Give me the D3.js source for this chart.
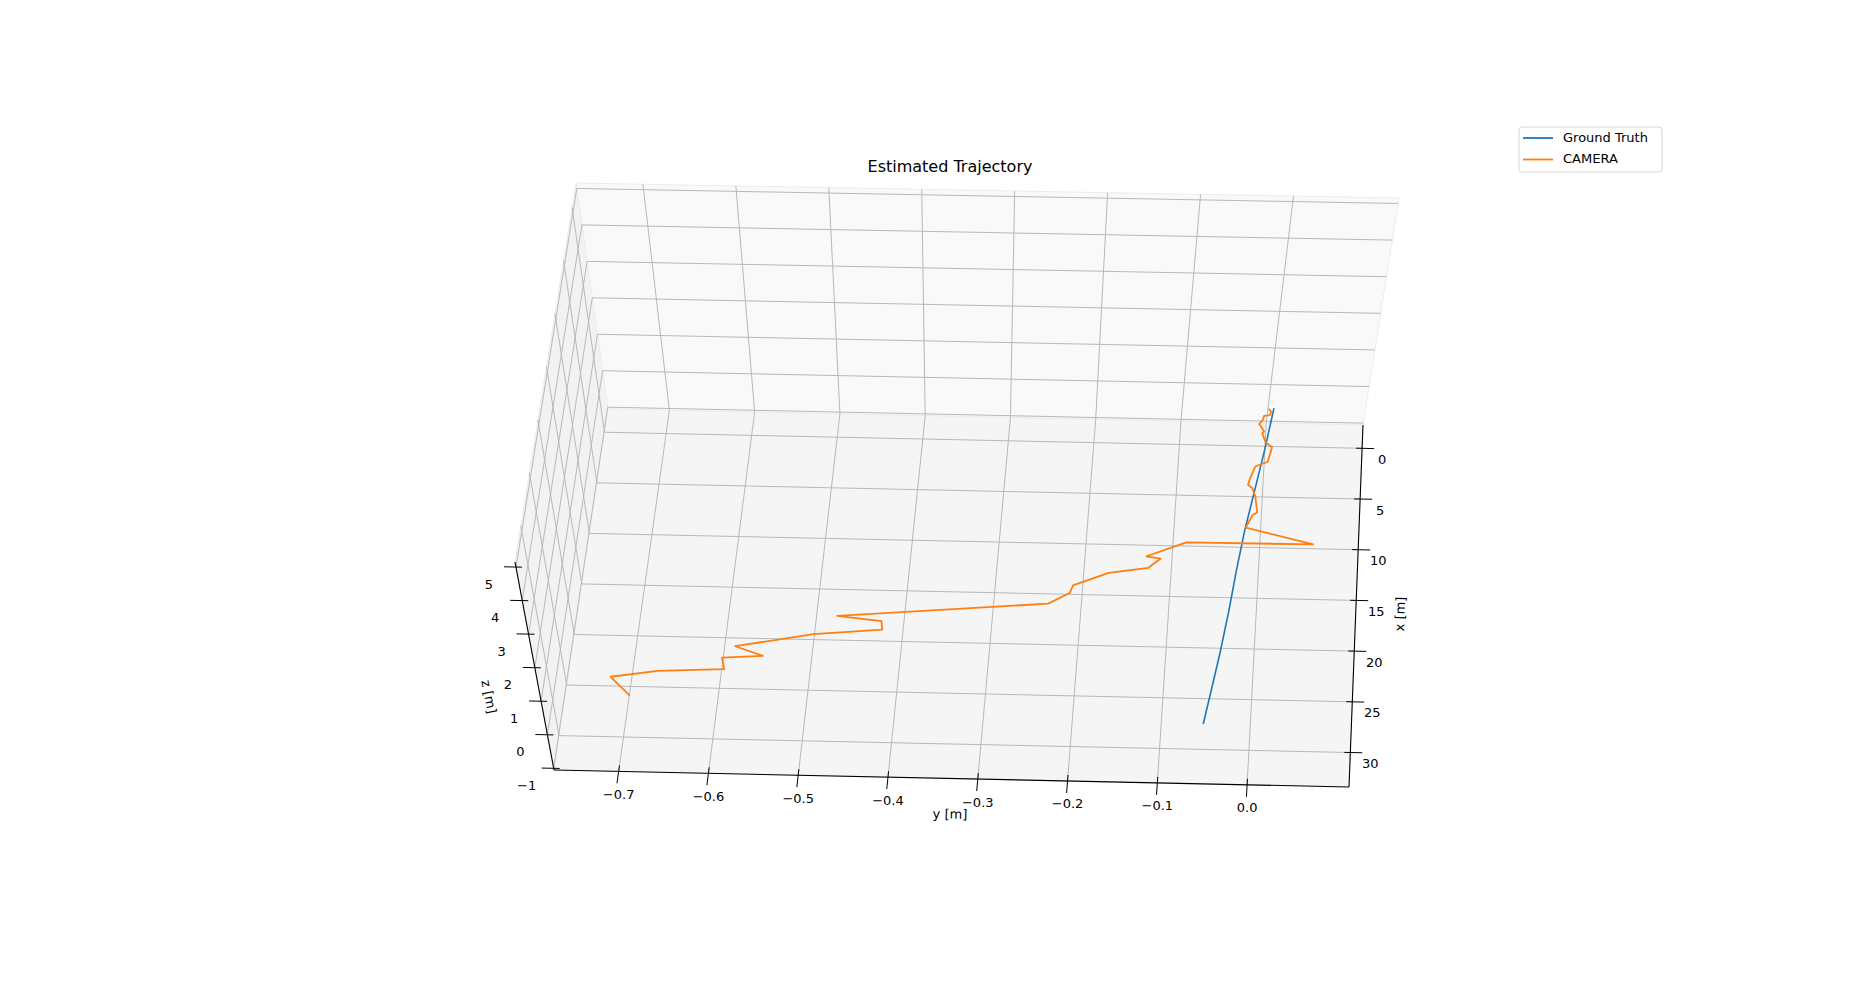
<!DOCTYPE html>
<html lang="en">
<head>
  <meta charset="UTF-8">
  <title>Estimated Trajectory</title>
  <style>
    body { margin: 0; background: #fff; font-family: "DejaVu Sans", sans-serif; }
    svg text { fill: #000; }
  </style>
</head>
<body>
  <svg id="chart" width="1853" height="991"></svg>

  <script src="https://d3js.org/d3.v7.min.js"></script>
  <script>
    // data (x, y, z in metres)
    const gtX = [0, 4, 8, 12, 16, 20, 24, 28, 31];
    const gtY = [0.005, -0.003, -0.012, -0.021, -0.028, -0.034, -0.041, -0.049, -0.055];
    const gtZ = [0, 0, 0, 0, 0, 0, 0, 0, 0];

    const camX = [0.09, 0.36, 0.68, 0.78, 1.16, 1.56, 2.31, 2.47, 3.29, 3.84, 5.25, 5.74, 6.88, 7.54,
      7.86, 8.68, 10.22, 10.48, 11.73, 13.23, 13.3, 14.73, 14.94, 15.85, 16.43, 17.72, 18.48, 19.56,
      21.18, 21.6, 22.44, 23.02, 24.36, 25.25, 25.5, 26.63, 26.93, 27.6, 29.4];
    const camY = [-0.001, 0.002, 0.001, -0.006, -0.007, -0.011, -0.005, -0.007, -0.003, 0.005,
      0.001, -0.013, -0.018, -0.020, -0.015, -0.011, -0.008, -0.013, -0.020, 0.057, -0.086, -0.130,
      -0.114, -0.127, -0.171, -0.210, -0.213, -0.236, -0.470, -0.420, -0.418, -0.494, -0.579, -0.547,
      -0.592, -0.588, -0.661, -0.712, -0.688];
    const camZ = camX.map(() => 0);

    const xTicks = [0, 5, 10, 15, 20, 25, 30];
    const yTicks = [-0.7, -0.6, -0.5, -0.4, -0.3, -0.2, -0.1, 0.0];
    const zTicks = [-1, 0, 1, 2, 3, 4, 5];

    const seriesNames = ["Ground Truth", "CAMERA"];
    const seriesColors = ["#1f77b4", "#ff7f0e"];

    // screen position of the 8 box corners: key = u v w (u: x, v: y, w: z, 0 = min, 1 = max)
    const corners = {
      "000": [608, 409], "010": [1363, 425], "100": [554, 770], "110": [1349, 787],
      "001": [576, 183], "011": [1399, 198], "101": [515, 562], "111": [1388, 579]
    };

    const xs = d3.scaleLinear().domain([-2.3, 33.4]).range([0, 1]);
    const ys = d3.scaleLinear().domain([-0.772, 0.1135]).range([0, 1]);
    const zs = d3.scaleLinear().domain([-1.05, 5.15]).range([0, 1]);

    const lerp = (a, b, t) => [a[0] + (b[0] - a[0]) * t, a[1] + (b[1] - a[1]) * t];

    // trilinear mapping of the unit box onto the screen
    function projUVW(u, v, w) {
      const c = k => corners[k];
      const b0 = lerp(lerp(c("000"), c("010"), v), lerp(c("100"), c("110"), v), u);
      const b1 = lerp(lerp(c("001"), c("011"), v), lerp(c("101"), c("111"), v), u);
      return lerp(b0, b1, w);
    }
    const proj = (x, y, z) => projUVW(xs(x), ys(y), zs(z));

    const svg = d3.select("#chart");
    const line = d3.line();

    // panes
    const panes = [
      { pts: [[0,0,0],[0,1,0],[0,1,1],[0,0,1]], fill: "#f9f9f9" }, // back (x min)
      { pts: [[0,0,0],[1,0,0],[1,0,1],[0,0,1]], fill: "#f2f2f2" }, // left (y min)
      { pts: [[0,0,0],[0,1,0],[1,1,0],[1,0,0]], fill: "#f5f5f5" }  // floor (z min)
    ];
    svg.append("g").selectAll("path").data(panes).join("path")
      .attr("d", d => line(d.pts.map(p => projUVW(...p))) + "Z")
      .attr("fill", d => d.fill)
      .attr("stroke", "#ececec")
      .attr("stroke-width", 1);

    // grid lines
    const grid = [];
    xTicks.forEach(t => {
      const u = xs(t);
      grid.push([[u, 0, 0], [u, 1, 0]]);  // floor
      grid.push([[u, 0, 0], [u, 0, 1]]);  // left wall
    });
    yTicks.forEach(t => {
      const v = ys(t);
      grid.push([[0, v, 0], [1, v, 0]]);  // floor
      grid.push([[0, v, 0], [0, v, 1]]);  // back wall
    });
    zTicks.forEach(t => {
      const w = zs(t);
      grid.push([[0, 0, w], [0, 1, w]]);  // back wall
      grid.push([[0, 0, w], [1, 0, w]]);  // left wall
    });
    svg.append("g").selectAll("path").data(grid).join("path")
      .attr("d", d => line(d.map(p => projUVW(...p))))
      .attr("stroke", "#b8b8b8")
      .attr("stroke-width", 1)
      .attr("fill", "none");

    // axes: x on right (v=1,w=0), y at front (u=1,w=0), z front-left (u=1,v=0)
    const axes = [
      { a: [0, 1, 0], b: [1, 1, 0] },
      { a: [1, 0, 0], b: [1, 1, 0] },
      { a: [1, 0, 0], b: [1, 0, 1] }
    ];
    svg.append("g").selectAll("path").data(axes).join("path")
      .attr("d", d => line([projUVW(...d.a), projUVW(...d.b)]))
      .attr("stroke", "#000")
      .attr("stroke-width", 1.1)
      .attr("fill", "none");

    // ticks: out = direction in unit box pointing away from the box
    function drawTicks(ticks, toUVW, out, labelOff, fmt, anchor) {
      const g = svg.append("g");
      ticks.forEach(t => {
        const uvw = toUVW(t);
        const p = projUVW(...uvw);
        const q = projUVW(uvw[0] + out[0] * 0.05, uvw[1] + out[1] * 0.05, uvw[2] + out[2] * 0.05);
        let dx = q[0] - p[0], dy = q[1] - p[1];
        const len = Math.hypot(dx, dy); dx /= len; dy /= len;
        g.append("line")
          .attr("x1", p[0] - dx * 6).attr("y1", p[1] - dy * 6)
          .attr("x2", p[0] + dx * 12).attr("y2", p[1] + dy * 12)
          .attr("stroke", "#000").attr("stroke-width", 1);
        g.append("text")
          .attr("x", p[0] + labelOff[0]).attr("y", p[1] + labelOff[1])
          .attr("text-anchor", anchor)
          .attr("dominant-baseline", "middle")
          .attr("font-size", 13)
          .text(fmt(t));
      });
    }
    const minus = s => s.replace("-", "\u2212");
    drawTicks(xTicks, t => [xs(t), 1, 0], [0, 1, 0], [20, 12], t => String(t), "middle");
    drawTicks(yTicks, t => [1, ys(t), 0], [1, 0, 0], [0, 24], t => minus(t.toFixed(1)), "middle");
    drawTicks(zTicks, t => [1, 0, zs(t)], [0, -1, 0], [-27, 18], t => minus(String(t)), "middle");

    // axis labels
    svg.append("text").attr("transform", "translate(1401,614) rotate(-88)")
      .attr("text-anchor", "middle").attr("dominant-baseline", "middle")
      .attr("font-size", 13).text("x [m]");
    svg.append("text").attr("transform", "translate(950,815) rotate(1.2)")
      .attr("text-anchor", "middle").attr("dominant-baseline", "middle")
      .attr("font-size", 13).text("y [m]");
    svg.append("text").attr("transform", "translate(488,697) rotate(79)")
      .attr("text-anchor", "middle").attr("dominant-baseline", "middle")
      .attr("font-size", 13).text("z [m]");

    // trajectories
    const series = [
      { x: gtX, y: gtY, z: gtZ, w: 1.6 },
      { x: camX, y: camY, z: camZ, w: 1.8 }
    ];
    svg.append("g").selectAll("path").data(series).join("path")
      .attr("d", d => line(d.x.map((x, i) => proj(x, d.y[i], d.z[i]))))
      .attr("stroke", (d, i) => seriesColors[i])
      .attr("stroke-width", d => d.w)
      .attr("stroke-linejoin", "round")
      .attr("fill", "none");

    // title
    svg.append("text").attr("x", 950).attr("y", 167)
      .attr("text-anchor", "middle").attr("dominant-baseline", "middle")
      .attr("font-size", 16).text("Estimated Trajectory");

    // legend
    const lg = svg.append("g").attr("transform", "translate(1519,127)");
    lg.append("rect").attr("width", 143).attr("height", 45).attr("rx", 3)
      .attr("fill", "#fff").attr("stroke", "#d6d6d6");
    seriesNames.forEach((name, i) => {
      const y = 11 + i * 21.5;
      lg.append("line").attr("x1", 4).attr("x2", 34).attr("y1", y).attr("y2", y)
        .attr("stroke", seriesColors[i]).attr("stroke-width", 1.8);
      lg.append("text").attr("x", 44).attr("y", y).attr("dominant-baseline", "middle")
        .attr("font-size", 13).text(name);
    });
  </script>
</body>
</html>
